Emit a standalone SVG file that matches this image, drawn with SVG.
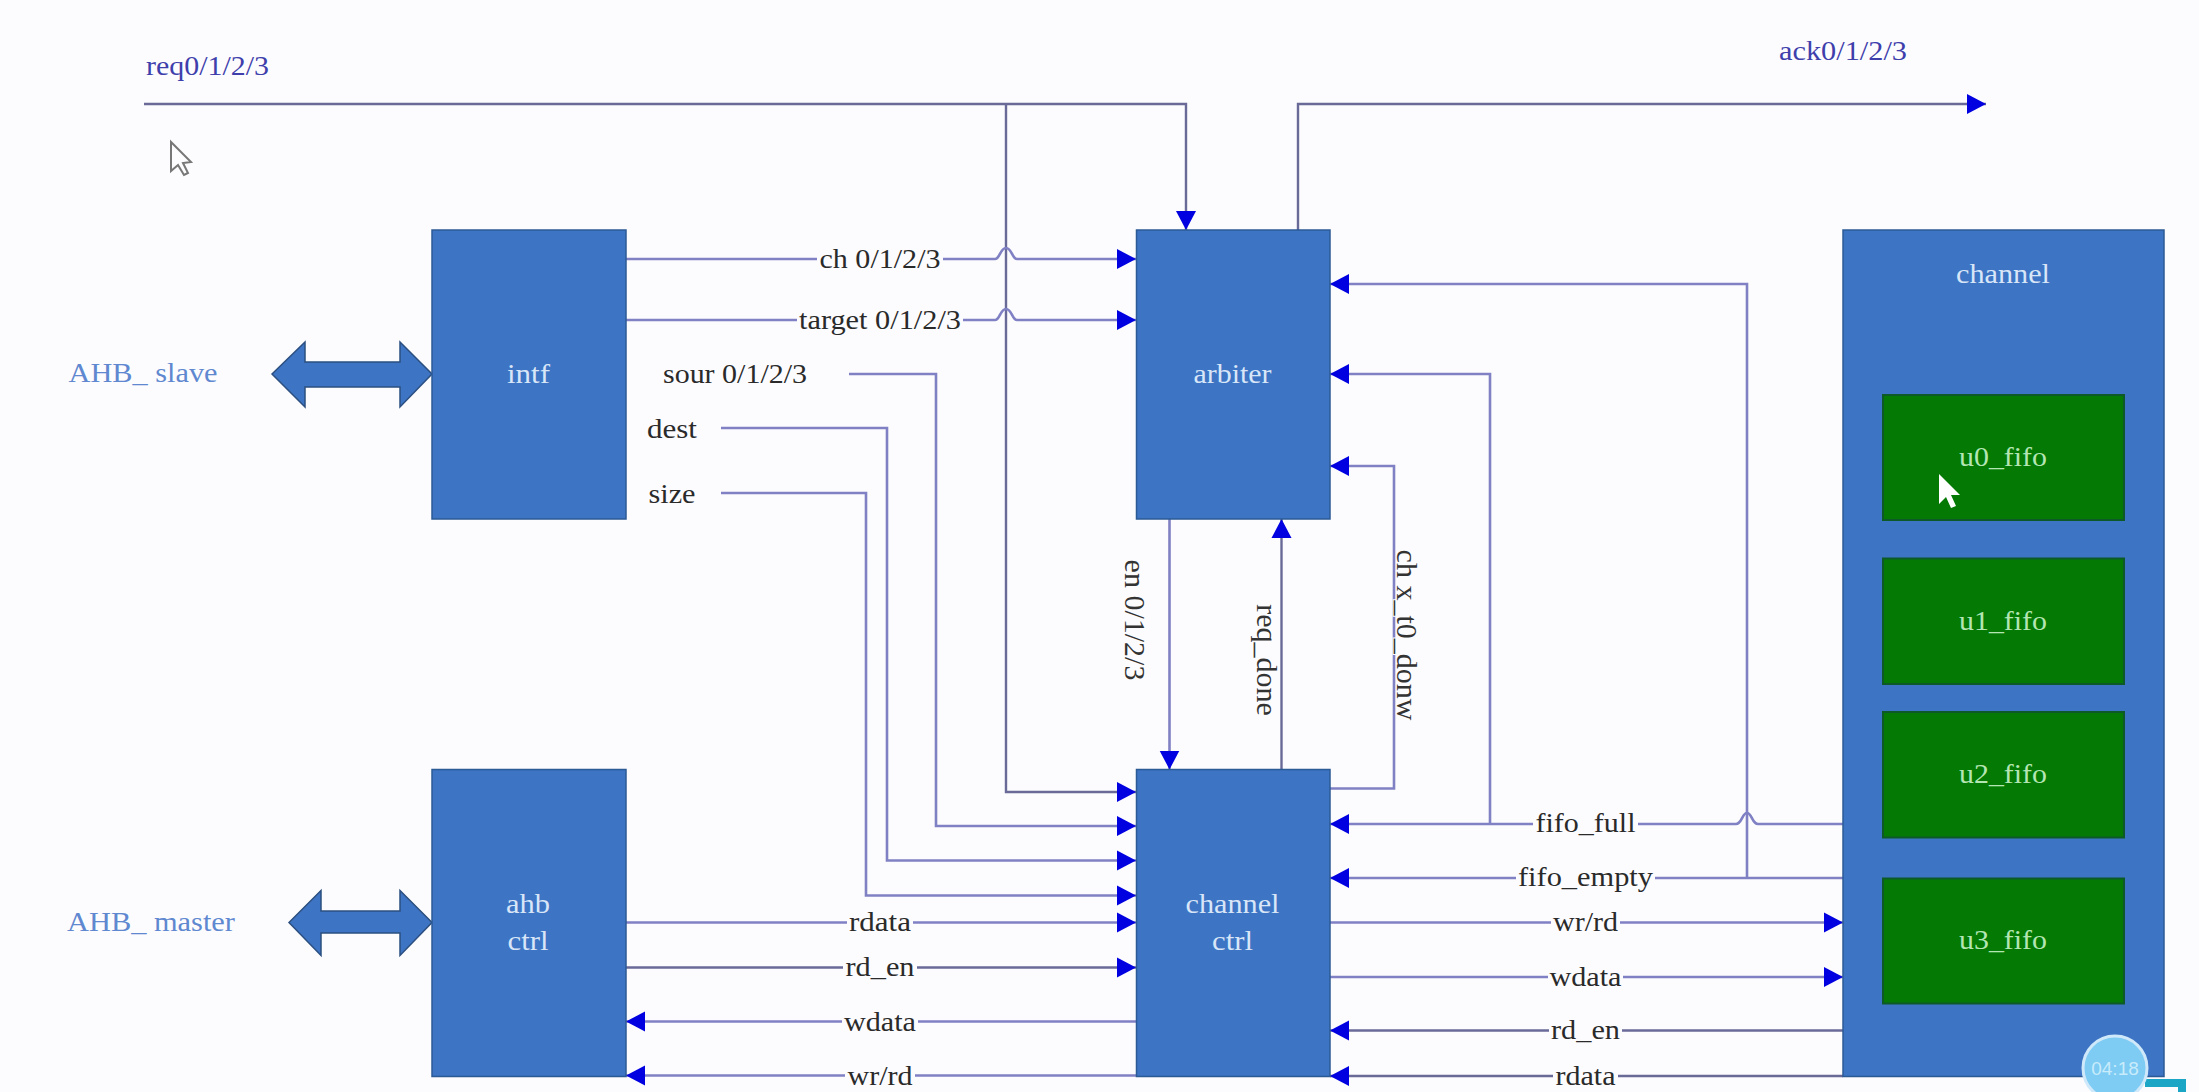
<svg xmlns="http://www.w3.org/2000/svg" width="2199" height="1092" viewBox="0 0 2199 1092">
<style>
text{font-family:"Liberation Serif","Times New Roman",serif;font-size:28px;text-anchor:middle}
.w{fill:#d8e6f8}
.g{fill:#b4e6b4}
.l{fill:#2a2a2a}
.gap{fill:#fcfcfe}
.r{fill:#333;font-size:30px;paint-order:stroke;stroke:#fcfcfe;stroke-width:2px}
.b{fill:#5f88d0}
.t{fill:#3f3fac}
.box{fill:#3d74c4;stroke:#2b5a95;stroke-width:1.5}
.fifo{fill:#047a04;stroke:#0d5a28;stroke-width:2}
.c{fill:none;stroke:#8080c4;stroke-width:2.6}
.d{fill:none;stroke:#6a6a98;stroke-width:2.4}
.a{marker-end:url(#ah)}
.dbl{fill:#3d74c4;stroke:#2b4f80;stroke-width:1.5}
</style>
<defs>
<marker id="ah" markerUnits="userSpaceOnUse" markerWidth="20" markerHeight="22" viewBox="0 0 20 22" refX="19" refY="11" orient="auto">
<path d="M0,1 L19,11 L0,21 Z" fill="#0000e0"/>
</marker>
</defs>
<rect width="2199" height="1092" fill="#fcfcfe"/>

<g id="connectors">
<path class="d a" d="M144,104 H1186 V230"/>
<path class="d a" d="M1006,104 V792 H1136"/>
<path class="d a" d="M1298,230 V104 H1986"/>
<path class="c a" d="M626,259 H995 C1000,259 1000,248 1006,248 C1012,248 1012,259 1017,259 H1136"/>
<path class="c a" d="M626,320 H995 C1000,320 1000,309 1006,309 C1012,309 1012,320 1017,320 H1136"/>
<path class="c a" d="M849,374 H936 V826 H1136"/>
<path class="c a" d="M721,428 H887 V860.500 H1136"/>
<path class="c a" d="M721,493 H866 V895.500 H1136"/>
<path class="c a" d="M626,922.500 H1136"/>
<path class="d a" d="M626,967.500 H1136"/>
<path class="c a" d="M1136,1021.500 H626"/>
<path class="c a" d="M1136,1075.500 H626"/>
<path class="c a" d="M1169.500,519 V769.500"/>
<path class="d a" d="M1281.500,769.500 V519"/>
<path class="c a" d="M1330,788.500 H1394 V466 H1330"/>
<path class="c a" d="M1490,824 V374 H1330"/>
<path class="c a" d="M1747,878 V284 H1330"/>
<path class="c a" d="M1843,824 H1758 C1752,824 1752,813 1747,813 C1742,813 1742,824 1736,824 H1330"/>
<path class="c a" d="M1843,878 H1330"/>
<path class="c a" d="M1330,922.500 H1843"/>
<path class="c a" d="M1330,977 H1843"/>
<path class="d a" d="M1843,1030.500 H1330"/>
<path class="d a" d="M1843,1076 H1330"/>
</g>

<g id="connector-labels">
<rect class="gap" x="817" y="254" width="126" height="10"/>
<rect class="gap" x="797" y="315" width="166" height="10"/>
<rect class="gap" x="847" y="917" width="66" height="10"/>
<rect class="gap" x="843" y="962" width="74" height="10"/>
<rect class="gap" x="842" y="1016" width="76" height="10"/>
<rect class="gap" x="845" y="1070" width="70" height="10"/>
<rect class="gap" x="1533" y="819" width="105" height="10"/>
<rect class="gap" x="1516" y="873" width="139" height="10"/>
<rect class="gap" x="1551" y="917" width="69" height="10"/>
<rect class="gap" x="1548" y="972" width="75" height="10"/>
<rect class="gap" x="1549" y="1025" width="73" height="10"/>
<rect class="gap" x="1553" y="1071" width="65" height="10"/>
<text class="t" x="207.500" y="75" textLength="123" lengthAdjust="spacingAndGlyphs">req0/1/2/3</text>
<text class="t" x="1843" y="60" textLength="128" lengthAdjust="spacingAndGlyphs">ack0/1/2/3</text>
<text class="l" x="880" y="268" textLength="121" lengthAdjust="spacingAndGlyphs">ch 0/1/2/3</text>
<text class="l" x="880" y="329" textLength="162" lengthAdjust="spacingAndGlyphs">target 0/1/2/3</text>
<text class="l" x="735" y="383" textLength="144" lengthAdjust="spacingAndGlyphs">sour 0/1/2/3</text>
<text class="l" x="672" y="438" textLength="50" lengthAdjust="spacingAndGlyphs">dest</text>
<text class="l" x="672" y="503" textLength="47" lengthAdjust="spacingAndGlyphs">size</text>
<text class="l" x="880" y="931" textLength="62" lengthAdjust="spacingAndGlyphs">rdata</text>
<text class="l" x="880" y="976" textLength="69" lengthAdjust="spacingAndGlyphs">rd_en</text>
<text class="l" x="880" y="1031" textLength="72" lengthAdjust="spacingAndGlyphs">wdata</text>
<text class="l" x="880" y="1085" textLength="65" lengthAdjust="spacingAndGlyphs">wr/rd</text>
<text class="l" x="1585.500" y="832" textLength="100" lengthAdjust="spacingAndGlyphs">fifo_full</text>
<text class="l" x="1585.500" y="886" textLength="135" lengthAdjust="spacingAndGlyphs">fifo_empty</text>
<text class="l" x="1585.500" y="931" textLength="65" lengthAdjust="spacingAndGlyphs">wr/rd</text>
<text class="l" x="1585.500" y="986" textLength="72" lengthAdjust="spacingAndGlyphs">wdata</text>
<text class="l" x="1585.500" y="1039" textLength="69" lengthAdjust="spacingAndGlyphs">rd_en</text>
<text class="l" x="1585.500" y="1085" textLength="60" lengthAdjust="spacingAndGlyphs">rdata</text>
<text class="r" transform="translate(1125,620) rotate(90)">en 0/1/2/3</text>
<text class="r" transform="translate(1257,660) rotate(90)">req_done</text>
<text class="r" transform="translate(1397,635) rotate(90)">ch x_t0_donw</text>
</g>

<g id="AHB_slave">
<path class="dbl" d="M272,374 L305,342 V362 H400 V342 L432,374 L400,407 V387 H305 V407 Z"/>
<text class="b" x="143" y="382" textLength="149" lengthAdjust="spacingAndGlyphs">AHB_ slave</text>
</g>
<g id="AHB_master">
<path class="dbl" d="M289,922.500 L321,890.500 V911 H400 V890.500 L432,922.500 L400,955.500 V933 H321 V955.500 Z"/>
<text class="b" x="151" y="931" textLength="168" lengthAdjust="spacingAndGlyphs">AHB_ master</text>
</g>
<g id="intf">
<rect class="box" x="432" y="230" width="194" height="289"/>
<text class="w" x="528.500" y="383" textLength="43" lengthAdjust="spacingAndGlyphs">intf</text>
</g>
<g id="ahb_ctrl">
<rect class="box" x="432" y="769.500" width="194" height="307"/>
<text class="w" x="528" y="913" textLength="44" lengthAdjust="spacingAndGlyphs">ahb</text>
<text class="w" x="528" y="950" textLength="41" lengthAdjust="spacingAndGlyphs">ctrl</text>
</g>
<g id="arbiter">
<rect class="box" x="1136.500" y="230" width="193.500" height="289"/>
<text class="w" x="1232.500" y="383" textLength="78" lengthAdjust="spacingAndGlyphs">arbiter</text>
</g>
<g id="channel_ctrl">
<rect class="box" x="1136.500" y="769.500" width="193.500" height="307"/>
<text class="w" x="1232.500" y="913" textLength="94" lengthAdjust="spacingAndGlyphs">channel</text>
<text class="w" x="1232.500" y="950" textLength="41" lengthAdjust="spacingAndGlyphs">ctrl</text>
</g>
<g id="channel">
<rect class="box" x="1843" y="230" width="321" height="846.500"/>
<text class="w" x="2003" y="283" textLength="94" lengthAdjust="spacingAndGlyphs">channel</text>
</g>
<g id="u0_fifo">
<rect class="fifo" x="1883" y="395" width="241" height="125"/>
<text class="g" x="2003" y="466" textLength="88" lengthAdjust="spacingAndGlyphs">u0_fifo</text>
</g>
<g id="u1_fifo">
<rect class="fifo" x="1883" y="558.500" width="241" height="125.500"/>
<text class="g" x="2003" y="630" textLength="88" lengthAdjust="spacingAndGlyphs">u1_fifo</text>
</g>
<g id="u2_fifo">
<rect class="fifo" x="1883" y="712" width="241" height="125.500"/>
<text class="g" x="2003" y="783" textLength="88" lengthAdjust="spacingAndGlyphs">u2_fifo</text>
</g>
<g id="u3_fifo">
<rect class="fifo" x="1883" y="878.500" width="241" height="125"/>
<text class="g" x="2003" y="949" textLength="88" lengthAdjust="spacingAndGlyphs">u3_fifo</text>
</g>

<g id="overlay">
<path d="M171,142 V171 L178,165 L184,175 L188,173 L183,163 L191,162 Z" fill="#fcfcfe" stroke="#777" stroke-width="2"/>
<path d="M1939,474 V504 L1946,497 L1951,508 L1956,506 L1951,495 L1960,495 Z" fill="#fff"/>
<path d="M2145,1083 H2182 V1092" fill="none" stroke="#1ba6c6" stroke-width="8"/>
<circle cx="2115" cy="1068" r="32" fill="#7ecbf3" stroke="#cfe9fa" stroke-width="3"/>
<text x="2115" y="1075" style="font-family:'Liberation Sans',Arial,sans-serif;font-size:19px;fill:#c8ecfb">04:18</text>
</g>
</svg>
